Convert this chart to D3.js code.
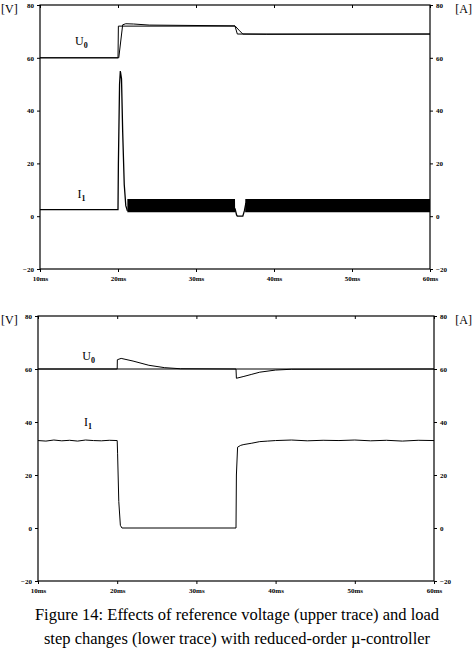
<!DOCTYPE html>
<html><head><meta charset="utf-8">
<script src="https://cdn.jsdelivr.net/npm/d3@7"></script>
<style>body{margin:0;background:#fff}svg{display:block}</style>
</head><body>
<svg id="c" width="474" height="649"></svg>
<script>
const xTicks=[10,20,30,40,50,60];
const xTickLabels=["10ms","20ms","30ms","40ms","50ms","60ms"];
const yTicks=[-20,0,20,40,60,80];
// top chart
const topUref=[[10,60],[20,60],[20.05,72],[35,72],[35.3,69],[60,69]];
const topUact=[[10,60],[20.1,60],[20.6,72.5],[21,72.9],[22,72.8],[24,72.4],[35,72.1],[35.5,70.5],[36,69],[39,68.9],[60,69]];
const topI=[[10,2.5],[20,2.5],[20.05,20],[20.2,50],[20.3,55],[20.45,52],[20.6,32],[20.8,12],[21,4],[21.2,2]];
const topIdip=[[35,3],[35.2,0.5],[35.3,0],[36,0],[36.2,2],[36.4,5]];
const bandX=[21.2,35,35.02,36.3,36.32,60];
const bandLo=[1.5,1.5,1.5,1.5,1.5,1.5];
const bandHi=[6.5,6.5,1.5,1.5,6.5,6.5];
// bottom chart
const botUref=[[10,60],[60,60]];
const botUact=[[10,60],[20,60],[20.02,63.5],[20.5,64],[22,63],[24,61.4],[26,60.5],[28,60.1],[35,60],[35.05,56.5],[36,57.2],[37,58],[38,58.8],[40,59.6],[42,59.9],[60,60]];
const botI=[[10,33],[11,32.8],[12,33.2],[13,32.9],[14,33.1],[15,32.8],[16,33.2],[17,33],[18,32.9],[19,33.1],[20,33],[20.05,28],[20.2,10],[20.4,1],[20.6,0],[35,0],[35.05,20],[35.2,30.5],[35.6,31.2],[36,31.5],[37,32],[38,32.6],[39,32.8],[40,33],[42,33.2],[44,32.9],[46,33.1],[48,33],[50,33.2],[52,32.9],[54,33.1],[56,32.8],[58,33.1],[60,33]];

const svg=d3.select("#c");
function chart(x0,x1,yTop,yBot,opts){
  const x=d3.scaleLinear().domain([10,60]).range([x0,x1]);
  const y=d3.scaleLinear().domain([-20,80]).range([yBot,yTop]);
  const g=svg.append("g");
  const line=d3.line().x(d=>x(d[0])).y(d=>y(d[1]));
  g.append("rect").attr("x",x0).attr("y",yTop).attr("width",x1-x0).attr("height",yBot-yTop).attr("fill","none").attr("stroke","#000").attr("stroke-width",1.2);
  const ax=d3.axisBottom(x).tickValues(xTicks).tickSize(3).tickFormat((d,i)=>xTickLabels[i]);
  const gx=g.append("g").attr("transform",`translate(0,${yBot})`).call(ax);
  gx.select(".domain").remove();
  gx.selectAll("text").attr("font-family","Liberation Serif").attr("font-size",7).attr("font-weight","bold").attr("dy","0.9em");
  g.append("g").attr("transform",`translate(0,${yTop})`).call(d3.axisBottom(x).tickValues(xTicks).tickSize(3).tickFormat("")).select(".domain").remove();
  const gl=g.append("g").attr("transform",`translate(${x0},0)`).call(d3.axisLeft(y).tickValues(yTicks).tickSize(3));
  const gr=g.append("g").attr("transform",`translate(${x1},0)`).call(d3.axisRight(y).tickValues(yTicks).tickSize(3));
  [gl,gr].forEach(a=>{a.select(".domain").remove();a.selectAll("text").attr("font-family","Liberation Serif").attr("font-size",7).attr("font-weight","bold");});
  g.append("text").attr("x",1).attr("y",yTop+8).attr("font-family","Liberation Serif").attr("font-size",12).text("[V]");
  g.append("text").attr("x",472).attr("y",yTop+8).attr("text-anchor","end").attr("font-family","Liberation Serif").attr("font-size",12).text("[A]");
  opts.lines.forEach(l=>g.append("path").attr("d",line(l.d)).attr("fill","none").attr("stroke","#000").attr("stroke-width",l.w||1));
  if(opts.band){
    const bd=bandX.map((v,i)=>[v,bandLo[i],bandHi[i]]);
    g.append("path").attr("d",d3.area().x(d=>x(d[0])).y0(d=>y(d[1])).y1(d=>y(d[2]))(bd)).attr("fill","#000");
  }
  opts.labels.forEach(t=>{
    const tx=g.append("text").attr("x",x(t.x)).attr("y",y(t.y)).attr("font-family","Liberation Serif").attr("font-size",12).attr("fill","#000").text(t.m);
    tx.append("tspan").attr("dy",3).attr("font-size",8).attr("font-weight","bold").text(t.s);
  });
}
chart(40,430,5,269,{lines:[{d:topUref},{d:topUact},{d:topI,w:1.3},{d:topIdip,w:1.3}],band:true,labels:[{x:14.5,y:65,m:"U",s:"0"},{x:14.8,y:7,m:"I",s:"1"}]});
chart(38,434,316,581,{lines:[{d:botUref},{d:botUact},{d:botI}],labels:[{x:15.6,y:63.5,m:"U",s:"0"},{x:15.8,y:38.5,m:"I",s:"1"}]});
svg.append("text").attr("x",237).attr("y",620).attr("text-anchor","middle").attr("font-family","Liberation Serif").attr("font-size",16.5).text("Figure 14: Effects of reference voltage (upper trace) and load");
svg.append("text").attr("x",237).attr("y",644).attr("text-anchor","middle").attr("font-family","Liberation Serif").attr("font-size",16.5).text("step changes (lower trace) with reduced-order µ-controller");
</script>
</body></html>
